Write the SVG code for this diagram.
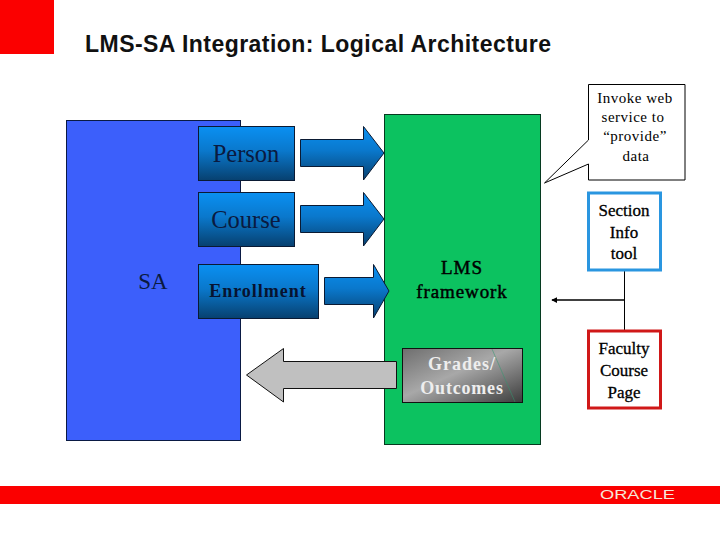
<svg xmlns="http://www.w3.org/2000/svg" width="720" height="540" viewBox="0 0 720 540">
<style>
.s{font-family:"Liberation Serif","Times New Roman",serif;text-anchor:middle}
.box{stroke:#0a1a33;stroke-width:1}
.arr{fill:url(#blue);stroke:#0a1a33;stroke-width:1}
.name{font-size:24.500px;fill:#0a1a40}
.bold{font-weight:bold}
.ink{font-size:17px;fill:#000;stroke:#000;stroke-width:.3px}
.big{font-size:19px;letter-spacing:.9px;stroke-width:.45px}
.note{font-size:15px;fill:#000;letter-spacing:.5px}
</style>
<defs>
<linearGradient id="blue" x1="0" y1="0" x2="0" y2="1"><stop offset="0" stop-color="#0a90f2"/><stop offset=".45" stop-color="#0a78cc"/><stop offset="1" stop-color="#07406f"/></linearGradient>
<linearGradient id="grey" x1="0" y1="0" x2="1" y2="1"><stop offset="0" stop-color="#6e6e6e"/><stop offset=".45" stop-color="#a8a8a8"/><stop offset="1" stop-color="#3c3c3c"/></linearGradient>
<marker id="tip" viewBox="0 0 8 8" refX="7" refY="4" markerWidth="6" markerHeight="6" markerUnits="userSpaceOnUse" orient="auto"><path d="M0 0L8 4L0 8Z" fill="#000"/></marker>
</defs>
<rect id="corner" x="0" y="0" width="54" height="54" fill="#fb0000"/>
<text x="85" y="52" font-family="'Liberation Sans',Arial,sans-serif" font-weight="bold" font-size="23" fill="#111" textLength="466" lengthAdjust="spacing">LMS-SA Integration: Logical Architecture</text>
<g id="sa"><rect x="66.500" y="120.500" width="174" height="320" fill="#3c5ffb" stroke="#0a1a44"/><text class="s" x="153" y="289" font-size="23" fill="#0a1a40">SA</text></g>
<g id="lms"><rect x="384.500" y="114.500" width="156" height="330" fill="#0cc260" stroke="#063a20"/><text class="s ink big" x="462" y="274">LMS</text><text class="s ink big" x="462" y="298">framework</text></g>
<g id="connectors">
<path class="arr" d="M300.500 139.500H363.500V126.500L384 153L363.500 180V166.500H300.500Z"/>
<path class="arr" d="M300.500 205.500H363.500V192.500L384 219L363.500 246V232.500H300.500Z"/>
<path class="arr" d="M324.500 277.500H373.500V264.500L389 291L373.500 318V304.500H324.500Z"/>
<path d="M396.500 361.500H283.500V348.500L246.500 375L283.500 402V388.500H396.500Z" fill="#c0c0c0" stroke="#111"/>
<path d="M624.500 270V330" fill="none" stroke="#000"/>
<path d="M624 300H552" fill="none" stroke="#000" stroke-width="1.500" marker-end="url(#tip)"/>
</g>
<g id="person"><rect class="box" x="198.500" y="126.500" width="96" height="54" fill="url(#blue)"/><text class="s name" x="246" y="162">Person</text></g>
<g id="course"><rect class="box" x="198.500" y="192.500" width="96" height="54" fill="url(#blue)"/><text class="s name" x="246" y="228">Course</text></g>
<g id="enrollment"><rect class="box" x="198.500" y="264.500" width="120" height="54" fill="url(#blue)"/><text class="s bold" x="258" y="297" font-size="18" fill="#071330" letter-spacing="1">Enrollment</text></g>
<g id="grades"><rect x="402.500" y="348.500" width="120" height="54" fill="url(#grey)" stroke="#111"/><path d="M492 349L515 402" stroke="#2f9a70" stroke-opacity=".5" fill="none"/><text class="s bold" x="462" y="370" font-size="18" fill="#eee" letter-spacing="1">Grades/</text><text class="s bold" x="462" y="394" font-size="18" fill="#eee" letter-spacing=".8">Outcomes</text></g>
<g id="callout"><path d="M588.500 84.500H685V180H588.500V164L544.500 183L588.500 140Z" fill="#fff" stroke="#000"/>
<text class="s note" x="635" y="103">Invoke web</text><text class="s note" x="633" y="122">service to</text><text class="s note" x="635" y="141">“provide”</text><text class="s note" x="636" y="161">data</text></g>
<g id="section"><rect x="588.500" y="193" width="72" height="77" fill="#fff" stroke="#2a96e0" stroke-width="3"/><text class="s ink" x="624" y="216">Section</text><text class="s ink" x="624" y="238">Info</text><text class="s ink" x="624" y="259">tool</text></g>
<g id="faculty"><rect x="588.500" y="331" width="72" height="77" fill="#fff" stroke="#d01818" stroke-width="3"/><text class="s ink" x="624" y="354">Faculty</text><text class="s ink" x="624" y="376">Course</text><text class="s ink" x="624" y="398">Page</text></g>
<rect id="band" x="0" y="486" width="720" height="18" fill="#fb0000"/>
<text x="600" y="499" font-family="'Liberation Sans',Arial,sans-serif" font-size="12.500" fill="#f6e6d8" textLength="75" lengthAdjust="spacingAndGlyphs">ORACLE</text>
</svg>
